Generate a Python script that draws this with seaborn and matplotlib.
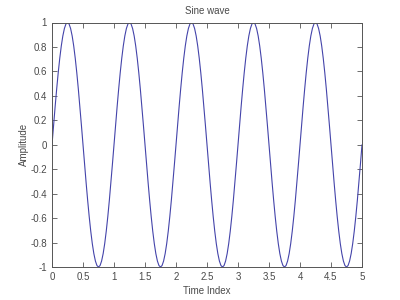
import matplotlib
matplotlib.use("Agg")
import matplotlib.pyplot as plt
import seaborn as sns
import pandas as pd

time_index = [
    0.000, 0.025, 0.050, 0.075, 0.100, 0.125, 0.150, 0.175, 0.200, 0.225,
    0.250, 0.275, 0.300, 0.325, 0.350, 0.375, 0.400, 0.425, 0.450, 0.475,
    0.500, 0.525, 0.550, 0.575, 0.600, 0.625, 0.650, 0.675, 0.700, 0.725,
    0.750, 0.775, 0.800, 0.825, 0.850, 0.875, 0.900, 0.925, 0.950, 0.975,
    1.000, 1.025, 1.050, 1.075, 1.100, 1.125, 1.150, 1.175, 1.200, 1.225,
    1.250, 1.275, 1.300, 1.325, 1.350, 1.375, 1.400, 1.425, 1.450, 1.475,
    1.500, 1.525, 1.550, 1.575, 1.600, 1.625, 1.650, 1.675, 1.700, 1.725,
    1.750, 1.775, 1.800, 1.825, 1.850, 1.875, 1.900, 1.925, 1.950, 1.975,
    2.000, 2.025, 2.050, 2.075, 2.100, 2.125, 2.150, 2.175, 2.200, 2.225,
    2.250, 2.275, 2.300, 2.325, 2.350, 2.375, 2.400, 2.425, 2.450, 2.475,
    2.500, 2.525, 2.550, 2.575, 2.600, 2.625, 2.650, 2.675, 2.700, 2.725,
    2.750, 2.775, 2.800, 2.825, 2.850, 2.875, 2.900, 2.925, 2.950, 2.975,
    3.000, 3.025, 3.050, 3.075, 3.100, 3.125, 3.150, 3.175, 3.200, 3.225,
    3.250, 3.275, 3.300, 3.325, 3.350, 3.375, 3.400, 3.425, 3.450, 3.475,
    3.500, 3.525, 3.550, 3.575, 3.600, 3.625, 3.650, 3.675, 3.700, 3.725,
    3.750, 3.775, 3.800, 3.825, 3.850, 3.875, 3.900, 3.925, 3.950, 3.975,
    4.000, 4.025, 4.050, 4.075, 4.100, 4.125, 4.150, 4.175, 4.200, 4.225,
    4.250, 4.275, 4.300, 4.325, 4.350, 4.375, 4.400, 4.425, 4.450, 4.475,
    4.500, 4.525, 4.550, 4.575, 4.600, 4.625, 4.650, 4.675, 4.700, 4.725,
    4.750, 4.775, 4.800, 4.825, 4.850, 4.875, 4.900, 4.925, 4.950, 4.975,
    5.000,
]

amplitude = [
    0.000, 0.156, 0.309, 0.454, 0.588, 0.707, 0.809, 0.891, 0.951, 0.988,
    1.000, 0.988, 0.951, 0.891, 0.809, 0.707, 0.588, 0.454, 0.309, 0.156,
    0.000, -0.156, -0.309, -0.454, -0.588, -0.707, -0.809, -0.891, -0.951, -0.988,
    -1.000, -0.988, -0.951, -0.891, -0.809, -0.707, -0.588, -0.454, -0.309, -0.156,
    0.000, 0.156, 0.309, 0.454, 0.588, 0.707, 0.809, 0.891, 0.951, 0.988,
    1.000, 0.988, 0.951, 0.891, 0.809, 0.707, 0.588, 0.454, 0.309, 0.156,
    0.000, -0.156, -0.309, -0.454, -0.588, -0.707, -0.809, -0.891, -0.951, -0.988,
    -1.000, -0.988, -0.951, -0.891, -0.809, -0.707, -0.588, -0.454, -0.309, -0.156,
    0.000, 0.156, 0.309, 0.454, 0.588, 0.707, 0.809, 0.891, 0.951, 0.988,
    1.000, 0.988, 0.951, 0.891, 0.809, 0.707, 0.588, 0.454, 0.309, 0.156,
    0.000, -0.156, -0.309, -0.454, -0.588, -0.707, -0.809, -0.891, -0.951, -0.988,
    -1.000, -0.988, -0.951, -0.891, -0.809, -0.707, -0.588, -0.454, -0.309, -0.156,
    0.000, 0.156, 0.309, 0.454, 0.588, 0.707, 0.809, 0.891, 0.951, 0.988,
    1.000, 0.988, 0.951, 0.891, 0.809, 0.707, 0.588, 0.454, 0.309, 0.156,
    0.000, -0.156, -0.309, -0.454, -0.588, -0.707, -0.809, -0.891, -0.951, -0.988,
    -1.000, -0.988, -0.951, -0.891, -0.809, -0.707, -0.588, -0.454, -0.309, -0.156,
    0.000, 0.156, 0.309, 0.454, 0.588, 0.707, 0.809, 0.891, 0.951, 0.988,
    1.000, 0.988, 0.951, 0.891, 0.809, 0.707, 0.588, 0.454, 0.309, 0.156,
    0.000, -0.156, -0.309, -0.454, -0.588, -0.707, -0.809, -0.891, -0.951, -0.988,
    -1.000, -0.988, -0.951, -0.891, -0.809, -0.707, -0.588, -0.454, -0.309, -0.156,
    0.000,
]

x_ticks = [0, 0.5, 1, 1.5, 2, 2.5, 3, 3.5, 4, 4.5, 5]
x_tick_labels = ["0", "0.5", "1", "1.5", "2", "2.5", "3", "3.5", "4", "4.5", "5"]
y_ticks = [-1, -0.8, -0.6, -0.4, -0.2, 0, 0.2, 0.4, 0.6, 0.8, 1]
y_tick_labels = ["-1", "-0.8", "-0.6", "-0.4", "-0.2", "0", "0.2", "0.4", "0.6", "0.8", "1"]

sns.set_style("white")
plt.rcParams['font.family'] = ['Liberation Sans', 'DejaVu Sans']

df = pd.DataFrame({"Time Index": time_index, "Amplitude": amplitude})

fig = plt.figure(figsize=(4, 3), dpi=100)
ax = fig.add_axes([0.13, 0.11, 0.775, 0.815])
sns.lineplot(data=df, x="Time Index", y="Amplitude", ax=ax,
             color="#4444aa", linewidth=0.8, sort=False)

text_color = "#4a4a4a"
fs = 7
ax.set_xlim(0, 5)
ax.set_ylim(-1, 1)
ax.set_xticks(x_ticks)
ax.set_xticklabels(x_tick_labels)
ax.set_yticks(y_ticks)
ax.set_yticklabels(y_tick_labels)
ax.tick_params(direction="in", length=3.5, width=0.6, colors="#555555",
               labelcolor=text_color, labelsize=fs, top=True, right=True,
               bottom=True, left=True, pad=3.5)
for s in ax.spines.values():
    s.set_visible(True)
    s.set_color("#555555")
    s.set_linewidth(0.7)

ax.set_title("Sine wave", fontsize=fs, color=text_color, pad=6)
ax.set_xlabel("Time Index", fontsize=fs, color=text_color, labelpad=3)
ax.set_ylabel("Amplitude", fontsize=fs, color=text_color, labelpad=1)

fig.savefig("out.png", dpi=100, facecolor="white")
